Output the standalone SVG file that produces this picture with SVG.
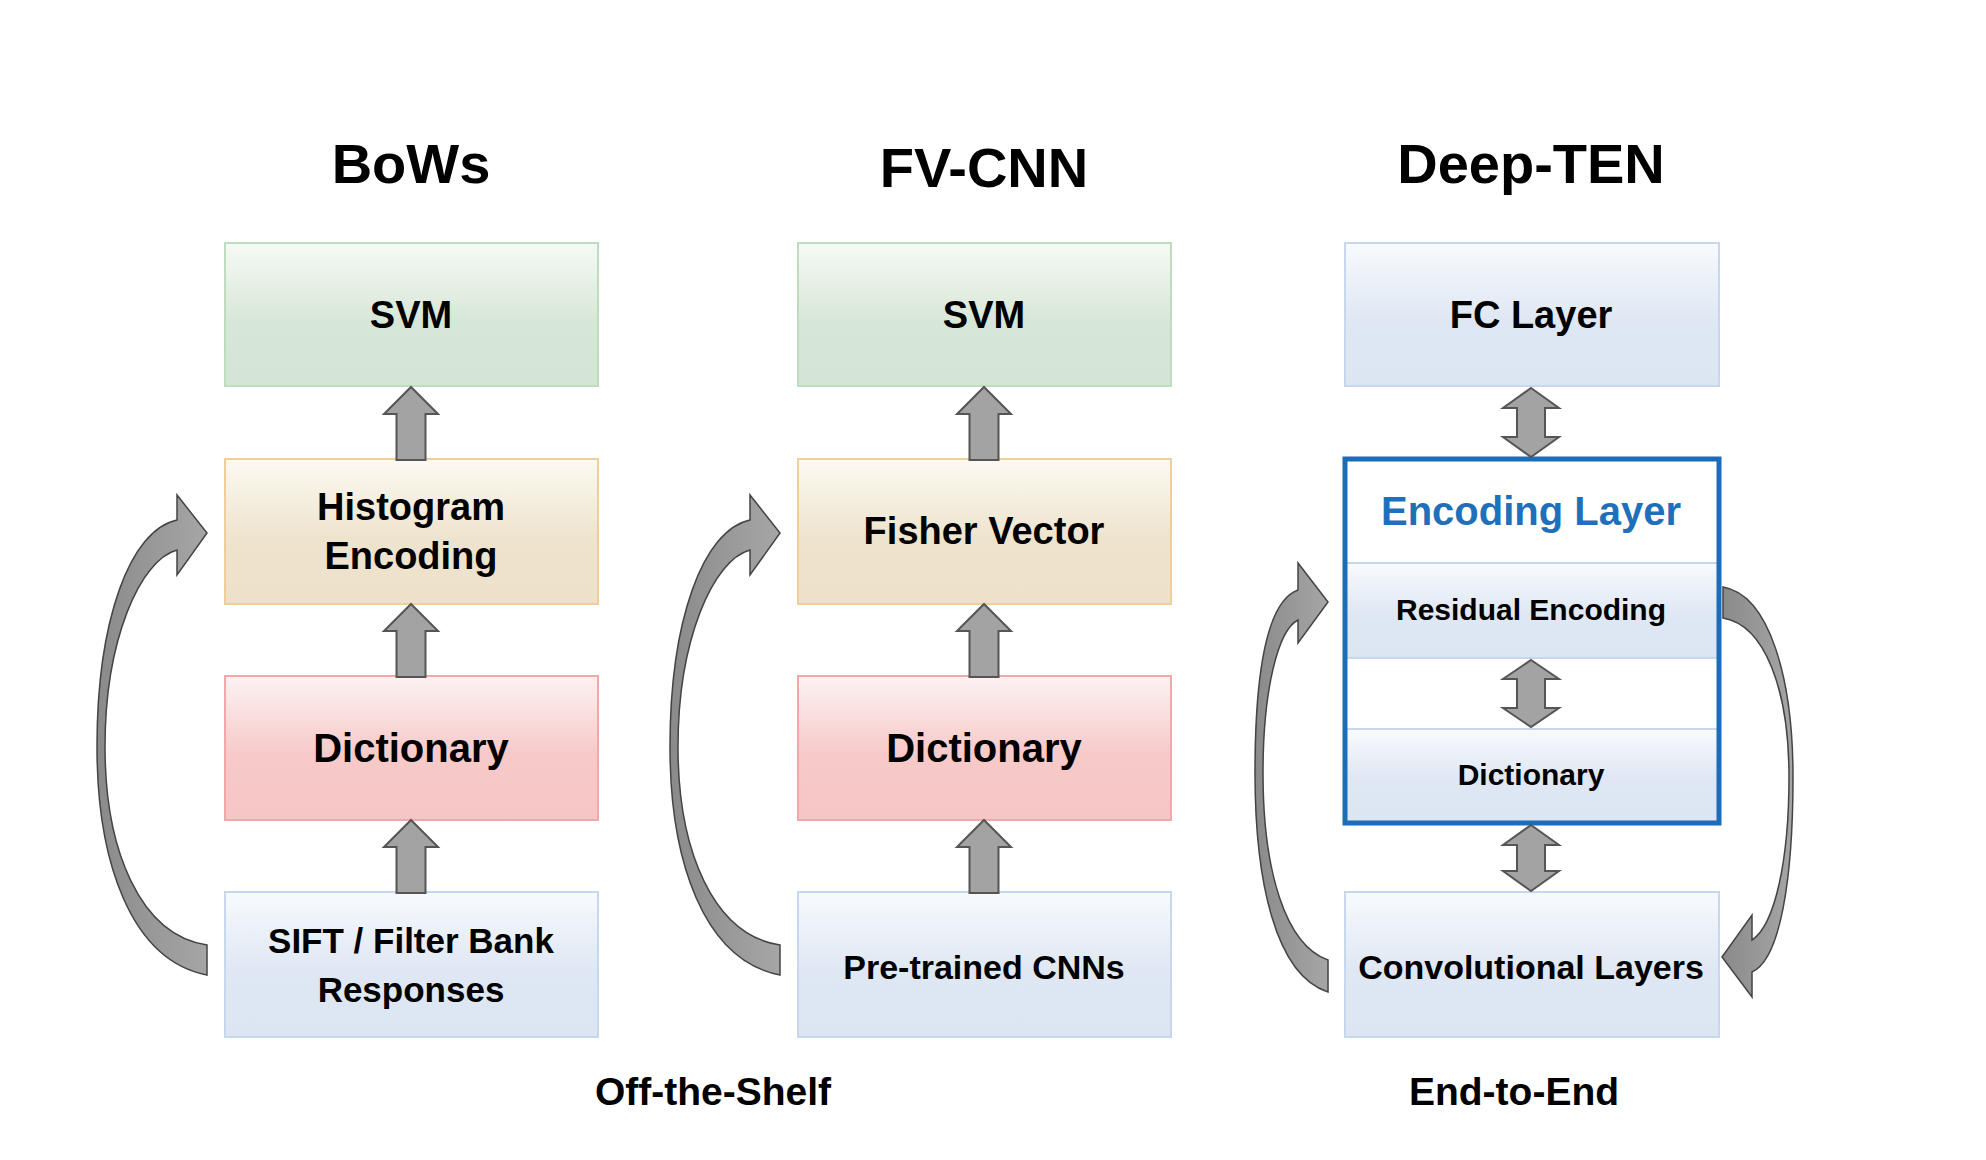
<svg xmlns="http://www.w3.org/2000/svg" width="1986" height="1160" viewBox="0 0 1986 1160">
<defs>
<linearGradient id="gG" x1="0" y1="0" x2="0" y2="1"><stop offset="0" stop-color="#F6FAF6"/><stop offset="0.55" stop-color="#D7E7D7"/><stop offset="1" stop-color="#D5E5D5"/></linearGradient>
<linearGradient id="gY" x1="0" y1="0" x2="0" y2="1"><stop offset="0" stop-color="#FCFAF4"/><stop offset="0.55" stop-color="#EEE3CD"/><stop offset="1" stop-color="#EDE1CA"/></linearGradient>
<linearGradient id="gR" x1="0" y1="0" x2="0" y2="1"><stop offset="0" stop-color="#FCF2F2"/><stop offset="0.55" stop-color="#F7C9C9"/><stop offset="1" stop-color="#F6C6C6"/></linearGradient>
<linearGradient id="gB" x1="0" y1="0" x2="0" y2="1"><stop offset="0" stop-color="#F8FAFD"/><stop offset="0.55" stop-color="#DEE7F3"/><stop offset="1" stop-color="#DCE6F2"/></linearGradient>
<linearGradient id="gA" x1="0" y1="0" x2="1" y2="0"><stop offset="0" stop-color="#8A8A8A"/><stop offset="1" stop-color="#A6A6A6"/></linearGradient>
<path id="up" d="M0,0 L27,27 L14.5,27 L14.5,73 L-14.5,73 L-14.5,27 L-27,27 Z"/>
</defs>
<style>
.t{font-family:"Liberation Sans",Arial,sans-serif;font-weight:bold;text-anchor:middle;fill:#000}
.g{fill:url(#gG);stroke:#BEDCBE;stroke-width:2}
.y{fill:url(#gY);stroke:#F0CE9C;stroke-width:2}
.r{fill:url(#gR);stroke:#F2A8A8;stroke-width:2}
.b{fill:url(#gB);stroke:#C6D7EE;stroke-width:2}
.ar{fill:#A3A3A3;stroke:#555;stroke-width:2}
.cv{fill:url(#gA);stroke:#444;stroke-width:1.5}
</style>
<rect width="1986" height="1160" fill="#fff"/>
<text class="t" x="411" y="183" font-size="56">BoWs</text>
<text class="t" x="984" y="187" font-size="56">FV-CNN</text>
<text class="t" x="1531" y="183" font-size="56">Deep-TEN</text>

<g id="bows-svm"><rect class="g" x="225" y="243" width="373" height="143"/><text class="t" x="411" y="328" font-size="38">SVM</text></g>
<g id="bows-hist"><rect class="y" x="225" y="459" width="373" height="145"/><text class="t" x="411" y="520" font-size="38">Histogram</text><text class="t" x="411" y="569" font-size="38">Encoding</text></g>
<g id="bows-dict"><rect class="r" x="225" y="676" width="373" height="144"/><text class="t" x="411" y="762" font-size="40">Dictionary</text></g>
<g id="bows-sift"><rect class="b" x="225" y="892" width="373" height="145"/><text class="t" x="411" y="953" font-size="35">SIFT / Filter Bank</text><text class="t" x="411" y="1002" font-size="35">Responses</text></g>

<g id="fv-svm"><rect class="g" x="798" y="243" width="373" height="143"/><text class="t" x="984" y="328" font-size="38">SVM</text></g>
<g id="fv-fisher"><rect class="y" x="798" y="459" width="373" height="145"/><text class="t" x="984" y="544" font-size="38">Fisher Vector</text></g>
<g id="fv-dict"><rect class="r" x="798" y="676" width="373" height="144"/><text class="t" x="984" y="762" font-size="40">Dictionary</text></g>
<g id="fv-cnn"><rect class="b" x="798" y="892" width="373" height="145"/><text class="t" x="984" y="979" font-size="34">Pre-trained CNNs</text></g>

<g id="dt-fc"><rect class="b" x="1345" y="243" width="374" height="143"/><text class="t" x="1531" y="328" font-size="38">FC Layer</text></g>
<g id="dt-enc">
<rect x="1345" y="459" width="374" height="364" fill="#fff"/>
<rect class="b" x="1346" y="563" width="372" height="95"/>
<rect class="b" x="1346" y="729" width="372" height="93"/>
<rect x="1345" y="459" width="374" height="364" fill="none" stroke="#1B6DB8" stroke-width="5"/>
<text class="t" x="1531" y="525" font-size="40" style="fill:#1F70BA">Encoding Layer</text>
<text class="t" x="1531" y="620" font-size="30">Residual Encoding</text>
<text class="t" x="1531" y="785" font-size="30">Dictionary</text>
</g>
<g id="dt-conv"><rect class="b" x="1345" y="892" width="374" height="145"/><text class="t" x="1531" y="979" font-size="34">Convolutional Layers</text></g>

<text class="t" x="713" y="1105" font-size="39">Off-the-Shelf</text>
<text class="t" x="1514" y="1105" font-size="39">End-to-End</text>

<g id="connectors">
<use href="#up" class="ar" x="411" y="387"/>
<use href="#up" class="ar" x="411" y="604"/>
<use href="#up" class="ar" x="411" y="820"/>
<use href="#up" class="ar" x="984" y="387"/>
<use href="#up" class="ar" x="984" y="604"/>
<use href="#up" class="ar" x="984" y="820"/>
<path class="ar" d="M1531,388 L1559,408 L1545,408 L1545,437 L1559,437 L1531,457 L1503,437 L1517,437 L1517,408 L1503,408 Z"/>
<path class="ar" d="M1531,660 L1559,679 L1545,679 L1545,708 L1559,708 L1531,727 L1503,708 L1517,708 L1517,679 L1503,679 Z"/>
<path class="ar" d="M1531,825 L1559,845 L1545,845 L1545,871 L1559,871 L1531,891 L1503,871 L1517,871 L1517,845 L1503,845 Z"/>
<path class="cv" d="M207,975 C130,960 97,860 97,747 C97,620 130,530 177,520 L177,495 L207,533 L177,575 L177,550 C140,560 105,640 105,747 C105,850 140,935 207,945 Z"/>
<path class="cv" transform="translate(573,0)" d="M207,975 C130,960 97,860 97,747 C97,620 130,530 177,520 L177,495 L207,533 L177,575 L177,550 C140,560 105,640 105,747 C105,850 140,935 207,945 Z"/>
<path class="cv" d="M1328,992 C1275,975 1255,880 1255,773 C1255,660 1270,600 1298,590 L1298,563 L1328,602 L1298,643 L1298,620 C1278,630 1263,690 1263,773 C1263,870 1285,945 1328,960 Z"/>
<path class="cv" d="M1723,587 C1770,595 1793,680 1793,777 C1793,880 1780,960 1752,972 L1752,997 L1722,957 L1752,915 L1752,940 C1775,925 1789,860 1789,777 C1789,690 1765,625 1723,618 Z"/>
</g>
</svg>
